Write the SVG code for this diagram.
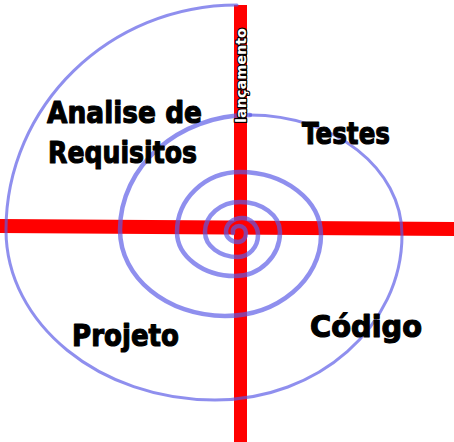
<svg xmlns="http://www.w3.org/2000/svg" width="454" height="442" viewBox="0 0 454 442">
<style>
.lbl{font-family:"DejaVu Sans","Liberation Sans",sans-serif;font-weight:bold;font-size:31px;fill:#000;stroke:#000;stroke-width:1.2;stroke-linejoin:round}
.sp{fill:none;stroke:#5a5ae6;stroke-opacity:0.68;stroke-linecap:round}
.ax{fill:#ff0000}
</style>
<rect width="454" height="442" fill="#ffffff"/>
<g id="axes">
<rect class="ax" x="234" y="5" width="13" height="437"/>
<polygon class="ax" points="0,219 454,222 454,236 0,233"/>
</g>
<g id="spiral">
<path class="sp" stroke-width="3" d="M237,5 C109.4,5 6,105.7 6,230 C6,323.9 99.6,400 215,400 C318.3,400 402,326.1 402,235 C402,168.7 334,115 250,115"/>
<path class="sp" stroke-width="4.5" d="M250,115 C178.2,115 120,166.5 120,230 C120,277.5 167,316 225,316 C278,316 321,279.7 321,235 C321,200.2 284.7,172 240,172 C205.2,172 177,198.9 177,232 C177,256.3 203,276 235,276 C259.9,276 280,256.3 280,232 C280,215.4 262.1,202 240,202 C220.7,202 205,215.4 205,232 C205,245.8 219.8,257 238,257 C249,257 258,247.2 258,235 C258,225.6 250.8,218 242,218 C233,218 226,224 226,232 C226,238 232,242 238,242 C243,242 246,238 246,233 C246,229 243,226 239,226 C235,226 232,229 233,233"/>
</g>
<g id="lancamento">
<text transform="translate(245.5,123) rotate(-90)" font-family="DejaVu Sans, Liberation Sans, sans-serif" font-weight="bold" font-size="14" fill="#ffffff" stroke="#000000" stroke-width="2.4" stroke-linejoin="round" paint-order="stroke" textLength="95" lengthAdjust="spacingAndGlyphs">lançamento</text>
</g>
<g id="analise">
<text class="lbl" x="47" y="123" textLength="155" lengthAdjust="spacingAndGlyphs">Analise de</text>
<text class="lbl" x="48" y="163" textLength="149" lengthAdjust="spacingAndGlyphs">Requisitos</text>
</g>
<g id="testes">
<text class="lbl" x="302" y="144" textLength="88" lengthAdjust="spacingAndGlyphs">Testes</text>
</g>
<g id="codigo">
<text class="lbl" x="310" y="337" textLength="112" lengthAdjust="spacingAndGlyphs">Código</text>
</g>
<g id="projeto">
<text class="lbl" x="72" y="346" textLength="107" lengthAdjust="spacingAndGlyphs">Projeto</text>
</g>
</svg>
